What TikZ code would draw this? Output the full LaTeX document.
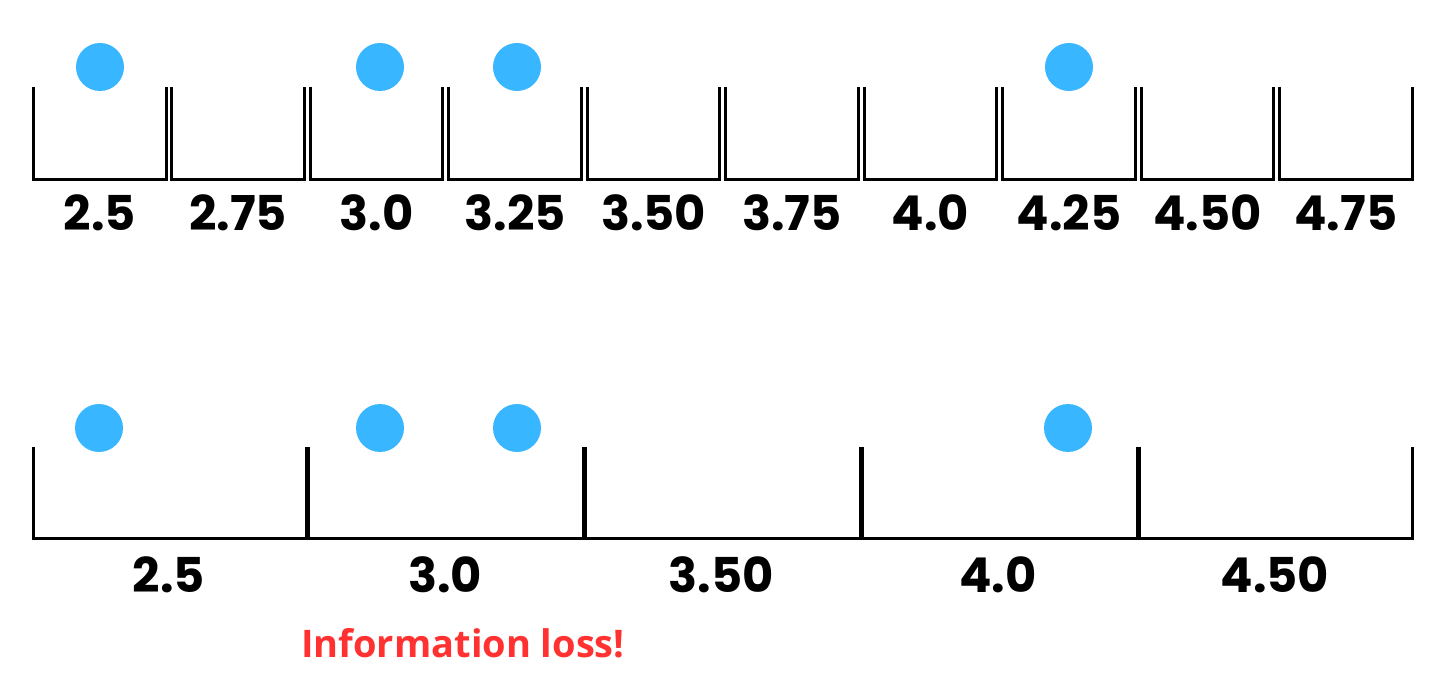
\documentclass[tikz,border=0pt]{standalone}
\usepackage{fontspec}
\setmainfont{Poppins}
\newfontfamily\notefont{Open Sans}
\usepackage{tikz}
\usetikzlibrary{positioning}
\usepackage{xcolor}
\definecolor{dotblue}{HTML}{38B6FF}
\definecolor{lossred}{HTML}{FF3131}

\begin{document}
\begin{tikzpicture}[
  x=1pt, y=-1pt,
  bin/.style={draw, line width=3pt, line join=miter},
  split/.style={draw, line width=4.5pt},
  val/.style={font=\fontsize{48}{52}\selectfont\bfseries, inner sep=0pt},
  dot/.style={circle, fill=dotblue, minimum size=48pt, inner sep=0pt},
  note/.style={font=\notefont\fontsize{38}{44}\selectfont\bfseries, text=lossred, inner sep=0pt},
]
  \useasboundingbox (0,0) rectangle (1449,676);

  % fine bins
  \draw[bin] (33.5,87)   |- (166,180)    -- (166,87);
  \draw[bin] (171.95,87) |- (304.45,180) -- (304.45,87);
  \draw[bin] (310.4,87)  |- (442.9,180)  -- (442.9,87);
  \draw[bin] (448.85,87) |- (581.35,180) -- (581.35,87);
  \draw[bin] (587.3,87)  |- (719.8,180)  -- (719.8,87);
  \draw[bin] (725.75,87) |- (858.25,180) -- (858.25,87);
  \draw[bin] (864.2,87)  |- (996.7,180)  -- (996.7,87);
  \draw[bin] (1002.65,87) |- (1135.15,180) -- (1135.15,87);
  \draw[bin] (1141.1,87) |- (1273.6,180) -- (1273.6,87);
  \draw[bin] (1279.55,87) |- (1412,180)  -- (1412,87);

  \node[val] (f1)  at (99.75,213)   {2.5};
  \node[val] (f2)  at (238.2,213)   {2.75};
  \node[val] (f3)  at (376.65,213)  {3.0};
  \node[val] (f4)  at (515.1,213)   {3.25};
  \node[val] (f5)  at (653.55,213)  {3.50};
  \node[val] (f6)  at (792,213)     {3.75};
  \node[val] (f7)  at (930.45,213)  {4.0};
  \node[val] (f8)  at (1068.9,213)  {4.25};
  \node[val] (f9)  at (1207.35,213) {4.50};
  \node[val] (f10) at (1345.8,213)  {4.75};

  \node[dot] (a1) at (100,67)  {};
  \node[dot] (a2) at (380,67)  {};
  \node[dot] (a3) at (517,67)  {};
  \node[dot] (a4) at (1069,67) {};

  % coarse bins
  \draw[bin] (33.5,447) |- (1412,538.5) -- (1412,447);
  \draw[split] (307.5,447)  -- (307.5,538.5);
  \draw[split] (584.5,447)  -- (584.5,538.5);
  \draw[split] (861.5,447)  -- (861.5,538.5);
  \draw[split] (1138.4,447) -- (1138.4,538.5);

  \node[val] (c1) at (169,575)  {2.5};
  \node[val] (c2) at (445,575)  {3.0};
  \node[val] (c3) at (721,575)  {3.50};
  \node[val] (c4) at (998,575)  {4.0};
  \node[val] (c5) at (1275,575) {4.50};

  \node[dot] (b1) at (99,428)   {};
  \node[dot] (b2) at (380,428)  {};
  \node[dot] (b3) at (517,428)  {};
  \node[dot] (b4) at (1068,428) {};

  \node[note] (loss) at (463,643) {Information loss!};
\end{tikzpicture}
\end{document}
